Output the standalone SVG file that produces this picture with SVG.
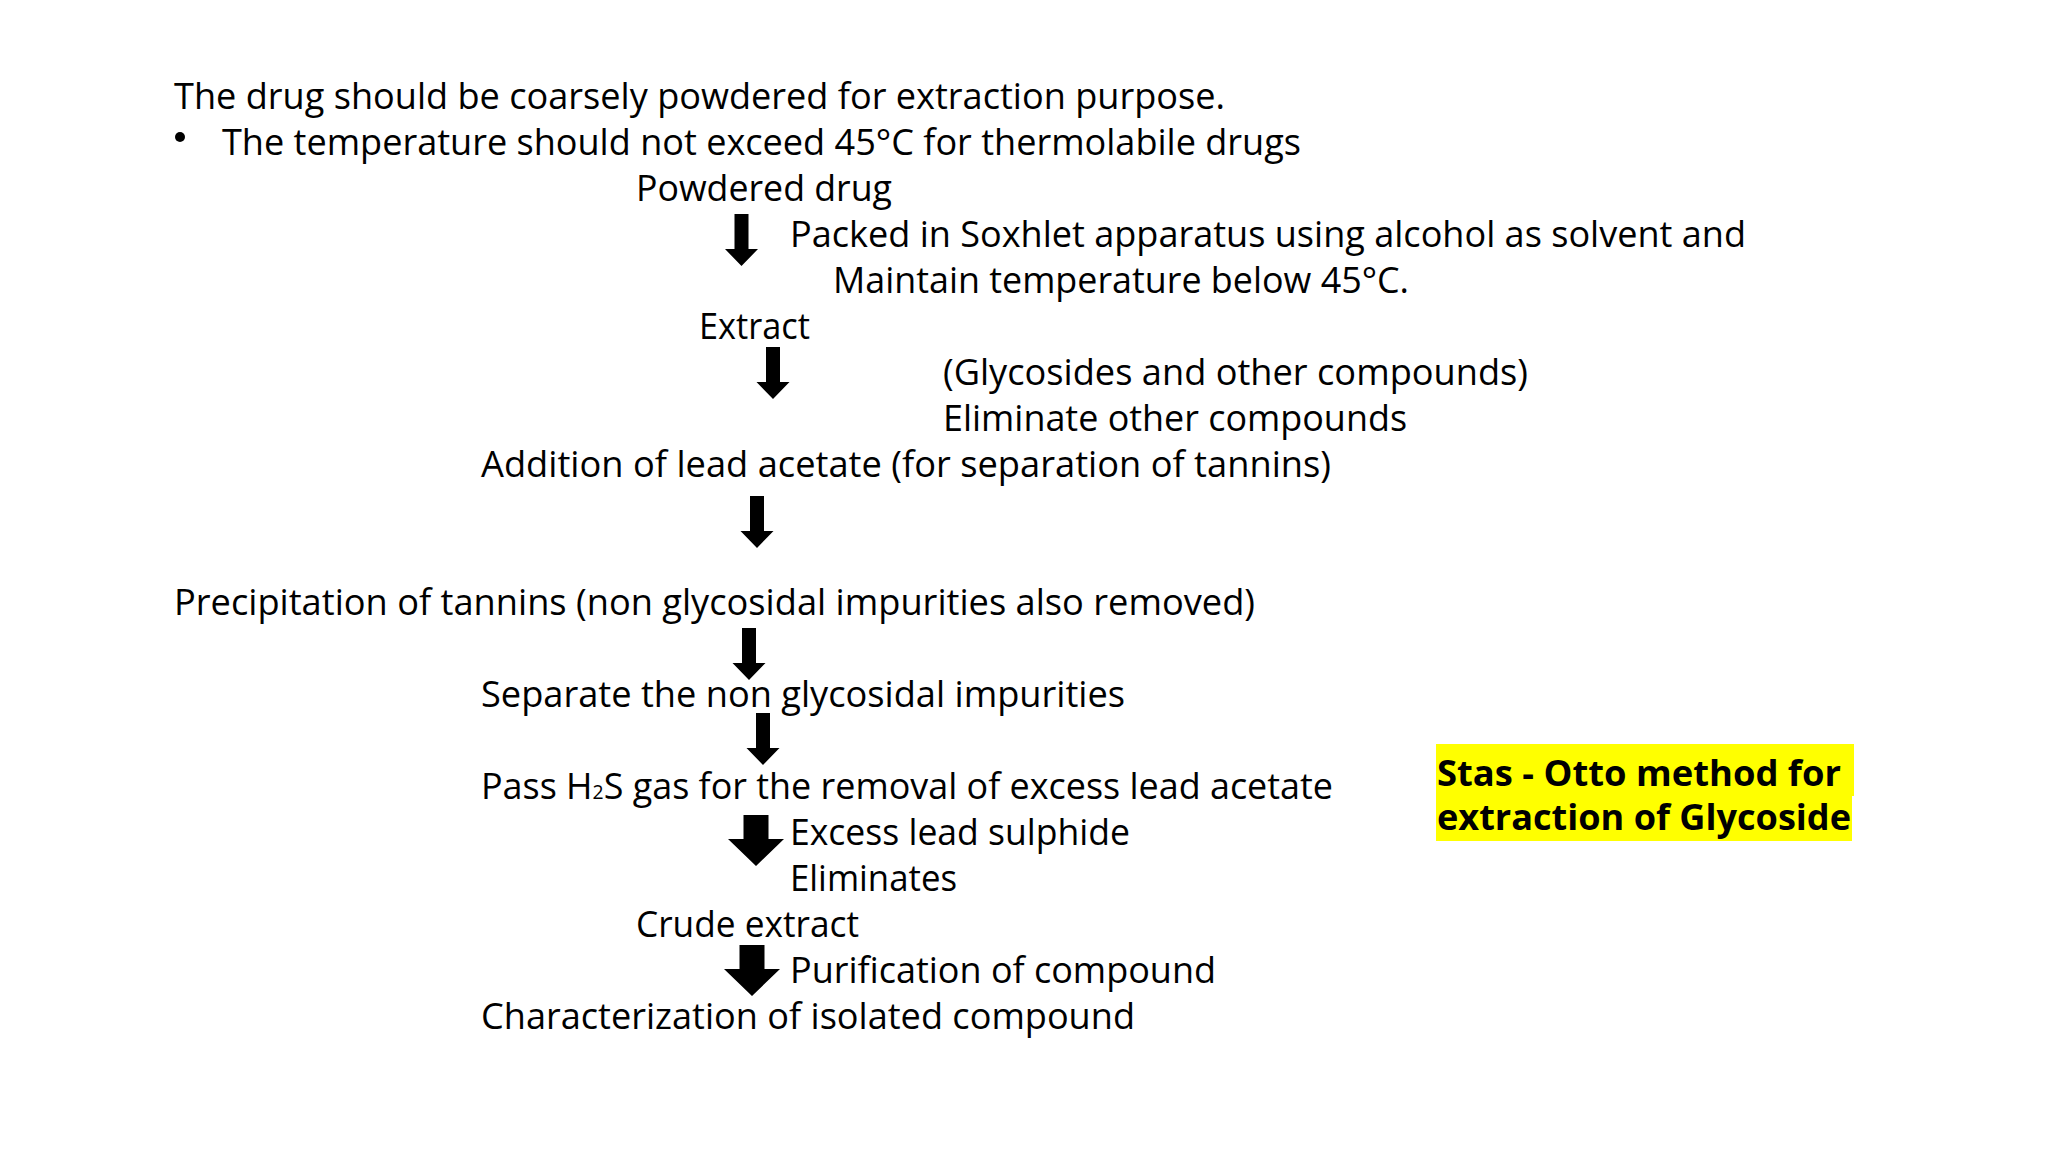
<svg xmlns="http://www.w3.org/2000/svg" width="2048" height="1152" viewBox="0 0 2048 1152">
  <defs>
    <style>
      .t { font-family: "Open Sans", "Noto Sans", "Liberation Sans", sans-serif; font-size: 37px; fill: #000; }
      .b { font-family: "Open Sans", "Noto Sans", "Liberation Sans", sans-serif; font-size: 35px; font-weight: bold; fill: #000; }
      .sub { font-size: 20px; }
      .hl { fill: #ffff00; }
      .arrow { fill: #000; }
    </style>
    <path id="arrowSmall" class="arrow" d="M-7,-52 H7 V-17 H16.5 L0,0 L-16.5,-17 H-7 Z"/>
    <path id="arrowBig" class="arrow" d="M-12.5,-51 H12.5 V-27 H28 L0,0 L-28,-27 H-12.5 Z"/>
  </defs>
  <rect width="2048" height="1152" fill="#ffffff"/>

  <g id="intro">
    <text class="t" x="174" y="109" textLength="1051" lengthAdjust="spacingAndGlyphs">The drug should be coarsely powdered for extraction purpose.</text>
    <circle cx="180" cy="137" r="5" fill="#000"/>
    <text class="t" x="222" y="155" textLength="1079" lengthAdjust="spacingAndGlyphs">The temperature should not exceed 45°C for thermolabile drugs</text>
  </g>

  <g id="node-powdered-drug">
    <text class="t" x="636" y="201" textLength="256" lengthAdjust="spacingAndGlyphs">Powdered drug</text>
  </g>
  <g id="label-soxhlet">
    <text class="t" x="790" y="247" textLength="956" lengthAdjust="spacingAndGlyphs">Packed in Soxhlet apparatus using alcohol as solvent and</text>
    <text class="t" x="833" y="293" textLength="576" lengthAdjust="spacingAndGlyphs">Maintain temperature below 45°C.</text>
  </g>
  <g id="node-extract">
    <text class="t" x="699" y="339" textLength="111" lengthAdjust="spacingAndGlyphs">Extract</text>
  </g>
  <g id="label-glycosides">
    <text class="t" x="943" y="385" textLength="585" lengthAdjust="spacingAndGlyphs">(Glycosides and other compounds)</text>
    <text class="t" x="943" y="431" textLength="464" lengthAdjust="spacingAndGlyphs">Eliminate other compounds</text>
  </g>
  <g id="node-lead-acetate">
    <text class="t" x="481" y="477" textLength="850" lengthAdjust="spacingAndGlyphs">Addition of lead acetate (for separation of tannins)</text>
  </g>
  <g id="node-precipitation">
    <text class="t" x="174" y="615" textLength="1081" lengthAdjust="spacingAndGlyphs">Precipitation of tannins (non glycosidal impurities also removed)</text>
  </g>
  <g id="node-separate">
    <text class="t" x="481" y="707" textLength="644" lengthAdjust="spacingAndGlyphs">Separate the non glycosidal impurities</text>
  </g>
  <g id="node-h2s">
    <text class="t" x="481" y="799" textLength="852" lengthAdjust="spacingAndGlyphs">Pass H<tspan class="sub">2</tspan>S gas for the removal of excess lead acetate</text>
  </g>
  <g id="label-lead-sulphide">
    <text class="t" x="790" y="845" textLength="340" lengthAdjust="spacingAndGlyphs">Excess lead sulphide</text>
    <text class="t" x="790" y="891" textLength="167" lengthAdjust="spacingAndGlyphs">Eliminates</text>
  </g>
  <g id="node-crude-extract">
    <text class="t" x="636" y="937" textLength="223" lengthAdjust="spacingAndGlyphs">Crude extract</text>
  </g>
  <g id="label-purification">
    <text class="t" x="790" y="983" textLength="426" lengthAdjust="spacingAndGlyphs">Purification of compound</text>
  </g>
  <g id="node-characterization">
    <text class="t" x="481" y="1029" textLength="654" lengthAdjust="spacingAndGlyphs">Characterization of isolated compound</text>
  </g>

  <g id="title-box">
    <rect class="hl" x="1436" y="744" width="418" height="52"/>
    <rect class="hl" x="1436" y="795" width="416" height="46"/>
    <text class="b" x="1437" y="786" textLength="404" lengthAdjust="spacingAndGlyphs">Stas - Otto method for</text>
    <text class="b" x="1437" y="830" textLength="414" lengthAdjust="spacingAndGlyphs">extraction of Glycoside</text>
  </g>

  <g id="connectors">
    <use href="#arrowSmall" x="741.5" y="266"/>
    <use href="#arrowSmall" x="773" y="399"/>
    <use href="#arrowSmall" x="757" y="548"/>
    <use href="#arrowSmall" x="749" y="680"/>
    <use href="#arrowSmall" x="763" y="765"/>
    <use href="#arrowBig" x="756" y="866"/>
    <use href="#arrowBig" x="752" y="996"/>
  </g>
</svg>
